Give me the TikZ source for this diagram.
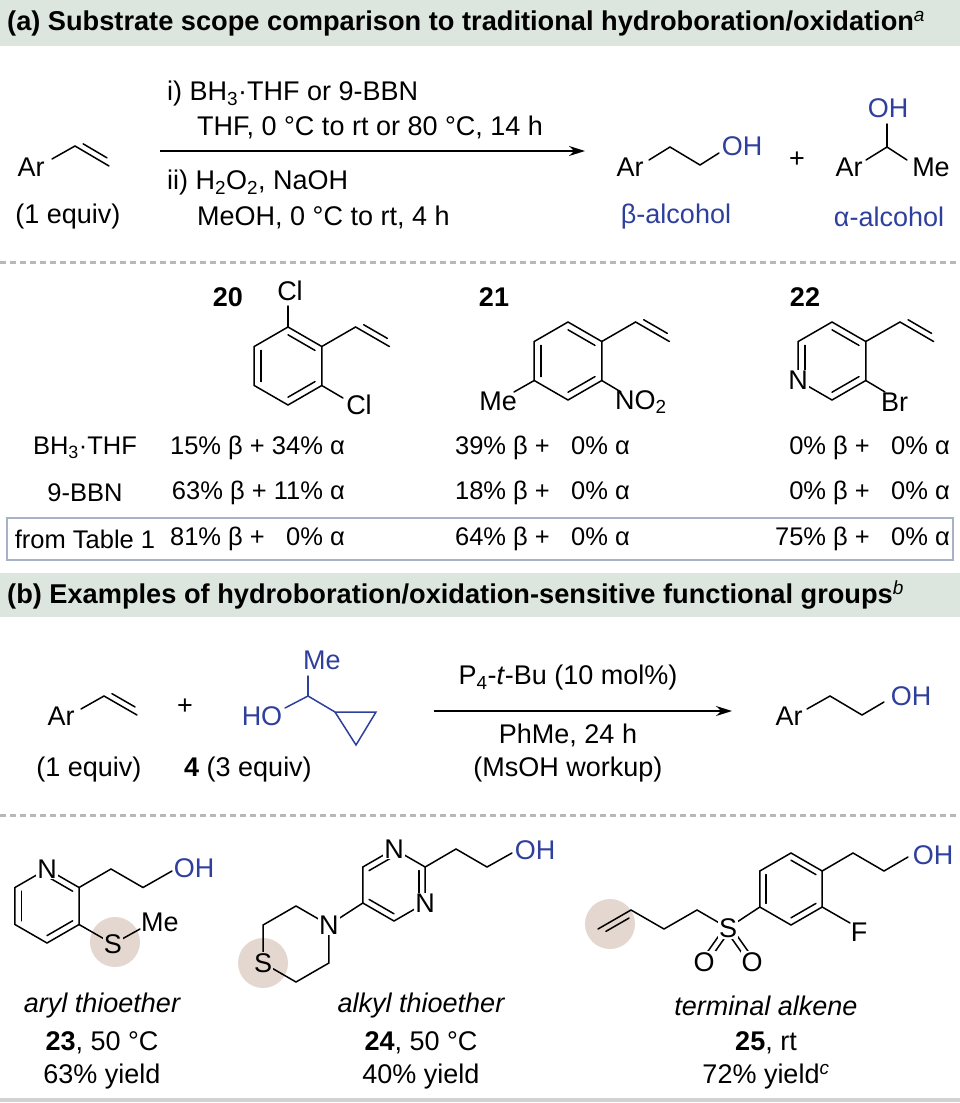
\documentclass[tikz,border=0pt]{standalone}
\usepackage{fontspec}
\setmainfont{Liberation Sans}
\usetikzlibrary{calc,arrows.meta}
\definecolor{hdr}{HTML}{DCE6DF}
\definecolor{chemblue}{HTML}{2E3F9C}
\definecolor{dashg}{HTML}{B8B8B8}
\definecolor{boxc}{HTML}{A7B2C8}
\definecolor{hl}{HTML}{E3D7CF}
\newcommand\fs{\fontsize{27}{31}\selectfont}
\newcommand\tfs{\fontsize{25.5}{30}\selectfont}
\newcommand\hfs{\bfseries\fontsize{27.2}{32}\selectfont}
\newcommand\hexat[4]{%
\coordinate (#1c) at (#2,#3);
\coordinate (#1t) at (#2,{#3-#4});
\coordinate (#1ur) at ({#2+0.866*#4},{#3-0.5*#4});
\coordinate (#1lr) at ({#2+0.866*#4},{#3+0.5*#4});
\coordinate (#1b) at (#2,{#3+#4});
\coordinate (#1ll) at ({#2-0.866*#4},{#3+0.5*#4});
\coordinate (#1ul) at ({#2-0.866*#4},{#3-0.5*#4});
\draw[bond] (#1t)--(#1ur)--(#1lr)--(#1b)--(#1ll)--(#1ul)--cycle;}
\newcommand\ringdb[3]{\draw[bond] ($(#1)!0.2!(#3)$) -- ($(#2)!0.2!(#3)$);}
\newcommand\sidedb[4]{\draw[bond] ($($(#1)!0.15!(#2)$)!6pt!#3:(#2)$) -- ($($(#2)!0.15!(#1)$)!6pt!#4:(#1)$);}
\tikzset{bond/.style={line width=1.5pt, line cap=round},
 lbl/.style={font=\fs, inner sep=1pt, fill=white},
 txt/.style={font=\fs, inner sep=0pt},
 tv/.style={font=\tfs, inner sep=0pt, anchor=east},
 bl/.style={text=chemblue},
 rxn/.style={line width=1.5pt, -{Stealth[length=16pt,width=10pt]}},
 dashsep/.style={dashg, line width=3pt, dash pattern=on 6pt off 4pt}}
\begin{document}
\begin{tikzpicture}[x=1pt,y=-1pt]
\useasboundingbox (0,0) rectangle (960,1103);
% header a
\fill[hdr] (0,0) rectangle (960,46);
\node[anchor=west, inner sep=0pt, font=\hfs] (ha) at (7,23) {(a) Substrate scope comparison to traditional hydroboration/oxidation\textsuperscript{\mdseries\itshape a}};
% reaction a
\coordinate (v0) at (52,159); \coordinate (v1) at (75,146); \coordinate (v2) at (109,166);
\draw[bond] (v0)--(v1)--(v2); \sidedb{v1}{v2}{90}{-90}
\node[txt] (ar1) at (31,167) {Ar};
\node[txt] (eq1) at (68,217) {(1 equiv)};
\coordinate (a1s) at (160,151); \coordinate (a1e) at (585,151);
\draw[rxn] (a1s) -- (a1e);
\node[txt, anchor=west] (c1) at (167,94) {i) BH\textsubscript{3}·THF or 9-BBN};
\node[txt, anchor=west] (c2) at (197,127) {THF, 0 °C to rt or 80 °C, 14 h};
\node[txt, anchor=west] (c3) at (167,183) {ii) H\textsubscript{2}O\textsubscript{2}, NaOH};
\node[txt, anchor=west] (c4) at (197,217) {MeOH, 0 °C to rt, 4 h};
\node[txt] (ar2) at (630,167) {Ar};
\coordinate (p0) at (649,160); \coordinate (p1) at (670,147); \coordinate (p2) at (700,165); \coordinate (p3) at (719,153);
\draw[bond] (p0)--(p1)--(p2)--(p3);
\node[txt,bl] (oh1) at (742,146) {OH};
\node[txt] (plus1) at (797,160) {+};
\node[txt] (ar3) at (849,167) {Ar};
\coordinate (q0) at (866,160); \coordinate (q1) at (887,147); \coordinate (q2) at (887,124); \coordinate (q3) at (907,160);
\draw[bond] (q0)--(q1)--(q3); \draw[bond] (q1)--(q2);
\node[txt,bl] (oh2) at (888,108) {OH};
\node[txt] (me1) at (931,167) {Me};
\node[txt,bl] (beta) at (676,217) {β-alcohol};
\node[txt,bl] (alpha) at (889,217) {α-alcohol};
\coordinate (d1a) at (0,262); \coordinate (d1b) at (960,262);
\draw[dashsep] (d1a) -- (d1b);
% compound 20
\hexat{a}{288}{366}{39}
\ringdb{at}{aur}{ac}\ringdb{alr}{ab}{ac}\ringdb{all}{aul}{ac}
\coordinate (aCl1) at (288,306); \draw[bond] (at)--(aCl1);
\coordinate (av1) at (355.6,327); \coordinate (av2) at (389.4,346.5);
\draw[bond] (aur)--(av1)--(av2); \sidedb{av1}{av2}{90}{-90}
\coordinate (aCl2) at (343,398); \draw[bond] (alr)--(aCl2);
\node[txt] (cl1) at (290,291) {Cl};
\node[txt] (cl2) at (359,405) {Cl};
\node[txt,font=\fs\bfseries] (n20) at (228,297) {20};
% compound 21
\hexat{b}{568}{361}{39}
\ringdb{bt}{bur}{bc}\ringdb{blr}{bb}{bc}\ringdb{bll}{bul}{bc}
\coordinate (bv1) at (635.6,322); \coordinate (bv2) at (669.4,341.5);
\draw[bond] (bur)--(bv1)--(bv2); \sidedb{bv1}{bv2}{90}{-90}
\coordinate (bno) at (621,392); \draw[bond] (blr)--(bno);
\coordinate (bme) at (514,392); \draw[bond] (bll)--(bme);
\node[txt,anchor=west] (no2) at (615,402) {NO\textsubscript{2}};
\node[txt,anchor=east] (me2) at (517,401) {Me};
\node[txt,font=\fs\bfseries] (n21) at (494,297) {21};
% compound 22
\hexat{c}{832}{361}{39}
\ringdb{ct}{cur}{cc}\ringdb{clr}{cb}{cc}\ringdb{cll}{cul}{cc}
\coordinate (cv1) at (900,322); \coordinate (cv2) at (933.6,341.5);
\draw[bond] (cur)--(cv1)--(cv2); \sidedb{cv1}{cv2}{90}{-90}
\coordinate (cbr) at (885,392); \draw[bond] (clr)--(cbr);
\node[lbl] (nN1) at (cll) {N};
\node[txt,anchor=west] (br) at (881,402) {Br};
\node[txt,font=\fs\bfseries] (n22) at (805,297) {22};
% table
\node[txt,font=\tfs] (r1) at (85,448) {BH\textsubscript{3}·THF};
\node[txt,font=\tfs] (r2) at (85,493) {9-BBN};
\node[txt,font=\tfs] (r3) at (85,539) {from Table 1};
\node[tv] (v11) at (345,448) {15\% β + 34\% α};
\node[tv] (v12) at (630,448) {39\% β + \phantom{0}0\% α};
\node[tv] (v13) at (950,448) {0\% β + \phantom{0}0\% α};
\node[tv] (v21) at (345,493) {63\% β + 11\% α};
\node[tv] (v22) at (630,493) {18\% β + \phantom{0}0\% α};
\node[tv] (v23) at (950,493) {0\% β + \phantom{0}0\% α};
\node[tv] (v31) at (345,539) {81\% β + \phantom{0}0\% α};
\node[tv] (v32) at (630,539) {64\% β + \phantom{0}0\% α};
\node[tv] (v33) at (950,539) {75\% β + \phantom{0}0\% α};
\draw[boxc, line width=1.5pt] (7,518) rectangle (953,560);
% header b
\fill[hdr] (0,573) rectangle (960,617);
\node[anchor=west, inner sep=0pt, font=\hfs] (hb) at (7,595) {(b) Examples of hydroboration/oxidation-sensitive functional groups\textsuperscript{\mdseries\itshape b}};
% reaction b
\coordinate (w0) at (81,709); \coordinate (w1) at (104,696); \coordinate (w2) at (137,715);
\draw[bond] (w0)--(w1)--(w2); \sidedb{w1}{w2}{90}{-90}
\node[txt] (ar4) at (61,716) {Ar};
\node[txt] (plus2) at (185,707) {+};
\begin{scope}[chemblue]
\coordinate (k0) at (285,708); \coordinate (kc) at (308,696); \coordinate (kme) at (308,676);
\coordinate (k1) at (335,712); \coordinate (k2) at (376,712); \coordinate (k3) at (356,745);
\draw[bond] (k0)--(kc)--(k1); \draw[bond] (kc)--(kme);
\draw[bond] (k1)--(k2)--(k3)--cycle;
\end{scope}
\node[txt,bl] (ho) at (262,716) {HO};
\node[txt,bl] (me3) at (322,660) {Me};
\node[txt] (eq2) at (89,770) {(1 equiv)};
\node[txt] (eq3) at (248,770) {\textbf{4} (3 equiv)};
\coordinate (a2s) at (434,711); \coordinate (a2e) at (732,711);
\draw[rxn] (a2s) -- (a2e);
\node[txt] (c5) at (568,678) {P\textsubscript{4}-\textit{t}-Bu (10 mol\%)};
\node[txt] (c6) at (568,735) {PhMe, 24 h};
\node[txt] (c7) at (568,770) {(MsOH workup)};
\node[txt] (ar5) at (789,716) {Ar};
\coordinate (s0) at (807,709); \coordinate (s1) at (830,696); \coordinate (s2) at (862,715); \coordinate (s3) at (884,702);
\draw[bond] (s0)--(s1)--(s2)--(s3);
\node[txt,bl] (oh3) at (911,696) {OH};
\coordinate (d2a) at (0,815); \coordinate (d2b) at (960,815);
\draw[dashsep] (d2a) -- (d2b);
% highlights
\fill[hl] (115,942) circle (25);
\fill[hl] (263,963) circle (25);
\fill[hl] (610,924) circle (25);
% compound 23
\hexat{d}{47}{906}{37}
\ringdb{dt}{dur}{dc}\ringdb{dlr}{db}{dc}\ringdb{dll}{dul}{dc}
\coordinate (dch1) at (111,869); \coordinate (dch2) at (143,887.5); \coordinate (dch3) at (172,871);
\draw[bond] (dur)--(dch1)--(dch2)--(dch3);
\coordinate (dS) at (113,944); \coordinate (dMe) at (140,929);
\draw[bond] (dlr)--(dS)--(dMe);
\node[lbl] (nN2) at (dt) {N};
\node[lbl,fill=hl] (s1n) at (dS) {S};
\node[txt] (me4) at (160,922) {Me};
\node[txt,bl] (oh4) at (194,868) {OH};
% compound 24
\hexat{e}{394}{885}{36}
\ringdb{eul}{et}{ec}\ringdb{eur}{elr}{ec}\ringdb{eb}{ell}{ec}
\coordinate (ech1) at (456,849); \coordinate (ech2) at (487,867); \coordinate (ech3) at (512,853);
\draw[bond] (eur)--(ech1)--(ech2)--(ech3);
\hexat{f}{296}{944}{38}
\draw[bond] (ell)--(fur);
\node[lbl] (nN3) at (et) {N};
\node[lbl] (nN4) at (elr) {N};
\node[lbl] (nN5) at (fur) {N};
\node[lbl,fill=hl] (s2n) at (fll) {S};
\node[txt,bl] (oh5) at (535,850) {OH};
% compound 25
\hexat{g}{791}{889}{36}
\ringdb{gt}{gur}{gc}\ringdb{glr}{gb}{gc}\ringdb{gll}{gul}{gc}
\coordinate (gch1) at (853,853); \coordinate (gch2) at (884,871); \coordinate (gch3) at (908,857);
\draw[bond] (gur)--(gch1)--(gch2)--(gch3);
\coordinate (gF) at (850,923); \draw[bond] (glr)--(gF);
\coordinate (gS) at (728,928); \coordinate (gO1) at (704,962); \coordinate (gO2) at (752,962);
\draw[bond] (gll)--(gS);
\draw[bond] ($(gS)!3pt!90:(gO1)$) -- ($(gO1)!3pt!-90:(gS)$);
\draw[bond] ($(gS)!3pt!-90:(gO1)$) -- ($(gO1)!3pt!90:(gS)$);
\draw[bond] ($(gS)!3pt!90:(gO2)$) -- ($(gO2)!3pt!-90:(gS)$);
\draw[bond] ($(gS)!3pt!-90:(gO2)$) -- ($(gO2)!3pt!90:(gS)$);
\coordinate (gc1) at (697,910); \coordinate (gc2) at (664,929); \coordinate (gc3) at (631,910); \coordinate (gc4) at (598,929);
\draw[bond] (gS)--(gc1)--(gc2)--(gc3)--(gc4); \sidedb{gc3}{gc4}{90}{-90}
\node[lbl] (s3n) at (gS) {S};
\node[lbl] (o1) at (gO1) {O};
\node[lbl] (o2) at (gO2) {O};
\node[txt] (f1) at (859,932) {F};
\node[txt,bl] (oh6) at (933,855) {OH};
% bottom labels
\node[txt,font=\fs\itshape] (l1) at (102,1006) {aryl thioether};
\node[txt,font=\fs\itshape] (l2) at (421,1006) {alkyl thioether};
\node[txt,font=\fs\itshape] (l3) at (766,1006) {terminal alkene};
\node[txt] (l4) at (102,1043) {\textbf{23}, 50 °C};
\node[txt] (l5) at (421,1043) {\textbf{24}, 50 °C};
\node[txt] (l6) at (766,1043) {\textbf{25}, rt};
\node[txt] (l7) at (102,1077) {63\% yield};
\node[txt] (l8) at (421,1077) {40\% yield};
\node[txt] (l9) at (766,1077) {72\% yield\textsuperscript{\itshape c}};
\coordinate (bl1) at (0,1100); \coordinate (bl2) at (960,1100);
\draw[gray!35, line width=4pt] (bl1) -- (bl2);
\end{tikzpicture}
\end{document}
